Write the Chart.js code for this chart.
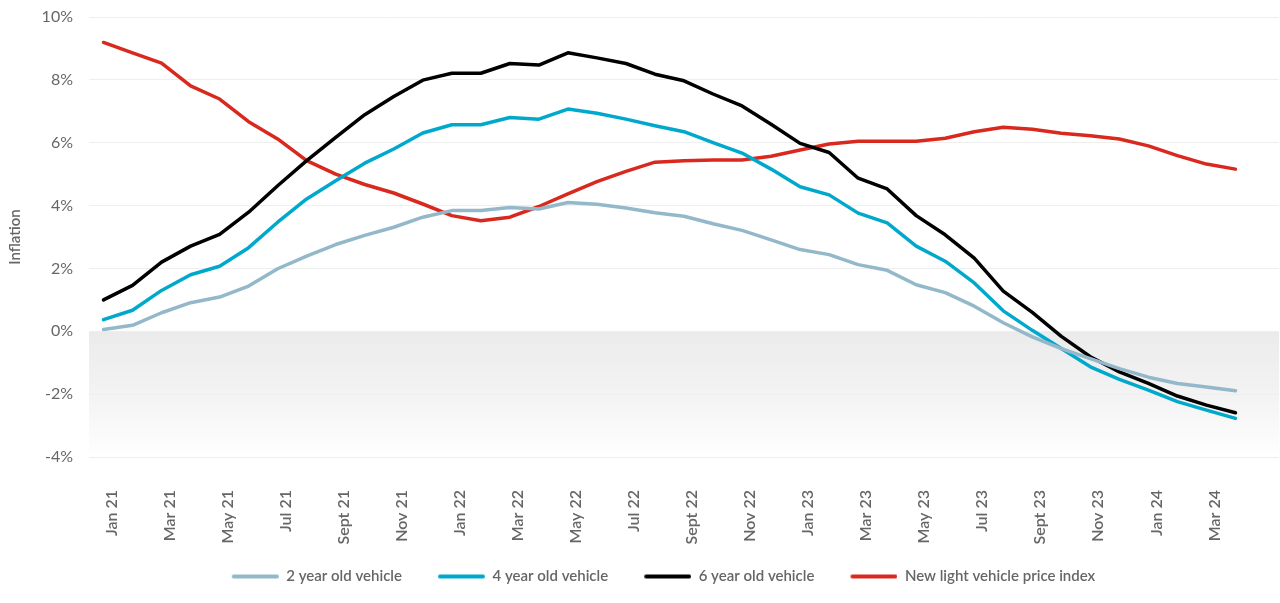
<!DOCTYPE html>
<html>
<head>
<meta charset="utf-8">
<script src="https://cdn.jsdelivr.net/npm/chart.js@4.4.1/dist/chart.umd.min.js"></script>
<style>
  html, body { margin: 0; padding: 0; background: #ffffff; }
  #wrap { width: 1280px; height: 603px; }
</style>
</head>
<body>
<div id="wrap"><canvas id="c" width="1280" height="603"></canvas></div>
<script>
// Months (category axis). The last category (May 24) has no data.
const months = [
  "Jan 21","Feb 21","Mar 21","Apr 21","May 21","Jun 21","Jul 21","Aug 21","Sept 21","Oct 21","Nov 21","Dec 21",
  "Jan 22","Feb 22","Mar 22","Apr 22","May 22","Jun 22","Jul 22","Aug 22","Sept 22","Oct 22","Nov 22","Dec 22",
  "Jan 23","Feb 23","Mar 23","Apr 23","May 23","Jun 23","Jul 23","Aug 23","Sept 23","Oct 23","Nov 23","Dec 23",
  "Jan 24","Feb 24","Mar 24","Apr 24","May 24"
];

const twoYearOld = [
  0.06, 0.19, 0.59, 0.91, 1.09, 1.44, 1.99, 2.39, 2.76, 3.05, 3.31, 3.63,
  3.84, 3.84, 3.94, 3.89, 4.10, 4.04, 3.92, 3.77, 3.66, 3.42, 3.21, 2.91,
  2.60, 2.44, 2.12, 1.94, 1.48, 1.23, 0.80, 0.27, -0.18, -0.55, -0.87, -1.19,
  -1.46, -1.66, -1.77, -1.89
];

const fourYearOld = [
  0.37, 0.67, 1.30, 1.80, 2.07, 2.66, 3.47, 4.21, 4.79, 5.35, 5.80, 6.31,
  6.57, 6.57, 6.80, 6.75, 7.07, 6.94, 6.75, 6.54, 6.35, 6.00, 5.67, 5.16,
  4.60, 4.34, 3.76, 3.45, 2.71, 2.23, 1.54, 0.65, 0.03, -0.55, -1.13, -1.53,
  -1.87, -2.24, -2.51, -2.77
];

const sixYearOld = [
  1.00, 1.46, 2.20, 2.71, 3.08, 3.79, 4.63, 5.43, 6.17, 6.89, 7.47, 7.99,
  8.21, 8.21, 8.52, 8.47, 8.86, 8.70, 8.52, 8.18, 7.97, 7.55, 7.17, 6.59,
  5.98, 5.69, 4.87, 4.53, 3.68, 3.07, 2.33, 1.28, 0.60, -0.16, -0.81, -1.29,
  -1.66, -2.06, -2.35, -2.59
];

const newLightVehicle = [
  9.19, 8.86, 8.53, 7.81, 7.39, 6.67, 6.12, 5.43, 5.00, 4.67, 4.40, 4.05,
  3.68, 3.52, 3.63, 3.97, 4.37, 4.76, 5.09, 5.38, 5.43, 5.45, 5.45, 5.57,
  5.77, 5.96, 6.05, 6.05, 6.05, 6.14, 6.35, 6.49, 6.43, 6.30, 6.22, 6.12,
  5.90, 5.59, 5.32, 5.16
];

const seriesNames = ["2 year old vehicle", "4 year old vehicle", "6 year old vehicle", "New light vehicle price index"];
const seriesColors = ["#93b8ca", "#00a9cc", "#000000", "#d9291e"];

// Legend marker: transparent lead-in + thick line
function legendMarker(color) {
  const cv = document.createElement('canvas');
  cv.width = 73; cv.height = 8;
  const g = cv.getContext('2d');
  g.strokeStyle = color;
  g.lineWidth = 4;
  g.lineCap = 'round';
  g.beginPath();
  g.moveTo(28, 4);
  g.lineTo(71, 4);
  g.stroke();
  return cv;
}

const TEXT = '#666666';
const FONT = "Lato, 'Noto Sans', sans-serif";

const negativeShade = {
  id: 'negativeShade',
  beforeDraw(chart) {
    const {ctx, chartArea, scales} = chart;
    const y0 = scales.y.getPixelForValue(0);
    const y1 = scales.y.getPixelForValue(-4);
    const grad = ctx.createLinearGradient(0, y0, 0, y1);
    grad.addColorStop(0, '#ebebeb');
    grad.addColorStop(0.5, '#f3f3f3');
    grad.addColorStop(0.85, '#fbfbfb');
    grad.addColorStop(1, '#ffffff');
    ctx.save();
    ctx.fillStyle = grad;
    ctx.fillRect(chartArea.left, y0, chartArea.right - chartArea.left, y1 - y0);
    ctx.restore();
  }
};

const allSeries = [twoYearOld, fourYearOld, sixYearOld, newLightVehicle];

new Chart(document.getElementById('c'), {
  type: 'line',
  data: {
    labels: months,
    datasets: allSeries.map((vals, i) => ({
      label: seriesNames[i],
      data: vals,
      borderColor: seriesColors[i],
      backgroundColor: seriesColors[i],
      borderWidth: 3.5,
      borderCapStyle: 'round',
      borderJoinStyle: 'round',
      pointRadius: 0,
      pointHoverRadius: 0,
      pointStyle: legendMarker(seriesColors[i]),
      tension: 0,
      fill: false
    }))
  },
  options: {
    responsive: false,
    animation: false,
    devicePixelRatio: 1,
    layout: { padding: { top: 17, right: 1, left: 22, bottom: 9 } },
    plugins: {
      tooltip: { enabled: false },
      legend: {
        position: 'bottom',
        labels: {
          usePointStyle: true,
          pointStyleWidth: 73,
          padding: 10,
          color: TEXT,
          font: { family: FONT, size: 15, weight: '600' }
        }
      }
    },
    scales: {
      x: {
        offset: true,
        grid: { display: false, drawTicks: false },
        border: { display: false },
        afterFit(scale) {
          scale.height = 102;
          scale.paddingRight = 0;
          scale.paddingLeft = 0;
        },
        ticks: {
          autoSkip: false,
          maxRotation: 90,
          minRotation: 90,
          padding: 33,
          labelOffset: 8,
          color: TEXT,
          font: { family: FONT, size: 16, weight: '600' },
          callback(value, index) {
            return (index % 2 === 0 && index <= 38) ? months[index] : '';
          }
        }
      },
      y: {
        min: -4,
        max: 10,
        afterFit(scale) {
          scale.width = 67;
          scale.paddingTop = 0;
          scale.paddingBottom = 0;
        },
        grid: { color: '#eeeeee', lineWidth: 1, drawTicks: false },
        border: { display: false },
        ticks: {
          stepSize: 2,
          padding: 16,
          color: TEXT,
          font: { family: FONT, size: 16 },
          callback(v) { return v + '%'; }
        },
        title: {
          display: true,
          text: 'Inflation',
          color: TEXT,
          padding: { top: -16, bottom: 0 },
          font: { family: FONT, size: 15, weight: '600' }
        }
      }
    }
  },
  plugins: [negativeShade]
});
</script>
</body>
</html>
